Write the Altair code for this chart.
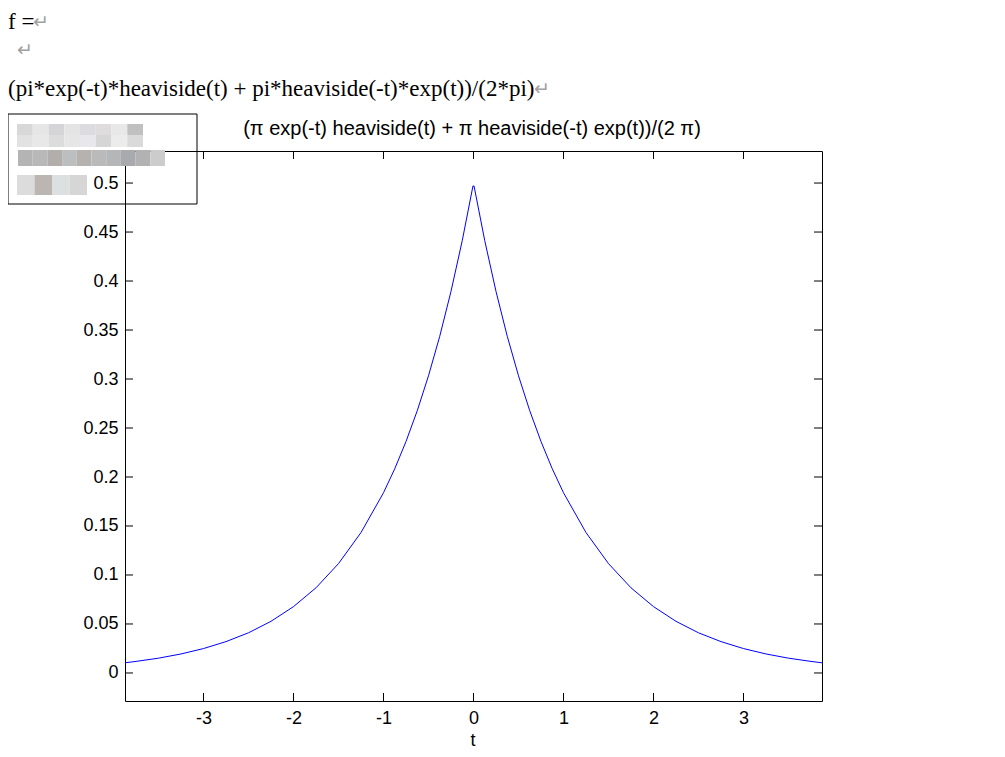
import altair as alt
import pandas as pd

# ---- data ----
t_vals = [-3.872, -3.75, -3.5, -3.25, -3.0, -2.75, -2.5, -2.25, -2.0, -1.75, -1.5, -1.25,
          -1.0, -0.875, -0.75, -0.625, -0.5, -0.375, -0.25, -0.125, -0.006,
          0.006, 0.125, 0.25, 0.375, 0.5, 0.625, 0.75, 0.875, 1.0,
          1.25, 1.5, 1.75, 2.0, 2.25, 2.5, 2.75, 3.0, 3.25, 3.5, 3.75, 3.872]
f_vals = [0.0104, 0.0118, 0.0151, 0.0194, 0.0249, 0.0320, 0.0410, 0.0527, 0.0677, 0.0869, 0.1116, 0.1433,
          0.1839, 0.2084, 0.2362, 0.2676, 0.3033, 0.3436, 0.3894, 0.4412, 0.497,
          0.497, 0.4412, 0.3894, 0.3436, 0.3033, 0.2676, 0.2362, 0.2084, 0.1839,
          0.1433, 0.1116, 0.0869, 0.0677, 0.0527, 0.0410, 0.0320, 0.0249, 0.0194, 0.0151, 0.0118, 0.0104]

x_ticks = [-3, -2, -1, 0, 1, 2, 3]
y_ticks = [0, 0.05, 0.1, 0.15, 0.2, 0.25, 0.3, 0.35, 0.4, 0.45, 0.5]

x_domain = [-3.872, 3.872]
y_domain = [-0.0286, 0.5327]

title_text = "(\u03c0 exp(-t) heaviside(t) + \u03c0 heaviside(-t) exp(t))/(2 \u03c0)"
line1 = "f ="
line3 = "(pi*exp(-t)*heaviside(t) + pi*heaviside(-t)*exp(t))/(2*pi)"
ret = "\u21b5"

# redaction mosaic (decorative) colours per row
row1a_cols = ["#d8d8d8", "#e6e6e6", "#d5d5d8", "#e4e4e4", "#dcdcdf", "#dedcdc", "#e8e8e8", "#c0c0c0"]
row1b_cols = ["#e2e2e2", "#e8e8e8", "#dcdcdc", "#e6e6e6", "#e8e8ec", "#d6d6d6", "#ececec", "#dadada"]
row2_cols = ["#b4b4b4", "#b8b8b8", "#b2aeab", "#bcbec0", "#b6b2b0", "#bababa", "#b4b6b8", "#a8aaae", "#b2b2b2", "#cccccc"]
row3_cols = ["#dcdcdc", "#bcb6b2", "#dce0e0", "#d6d6d6"]

W, H = 697, 550
OX, OY = 125, 151  # plot origin on page

xs = alt.Scale(domain=x_domain, nice=False, zero=False)
ys = alt.Scale(domain=y_domain, nice=False, zero=False)

df = pd.DataFrame({"t": t_vals, "f": f_vals})
xt = pd.DataFrame({"v": x_ticks})
yt = pd.DataFrame({"v": y_ticks})

line = alt.Chart(df).mark_line(color="#0000ff", strokeWidth=1, clip=True).encode(
    x=alt.X("t:Q", scale=xs, axis=alt.Axis(values=x_ticks, labelExpr="'' + datum.value", domain=False,
                                          ticks=False, grid=False, labelFontSize=18, labelFont="Liberation Sans",
                                          labelColor="black", labelPadding=8, title=None, labelFlush=False)),
    y=alt.Y("f:Q", scale=ys, axis=alt.Axis(values=y_ticks, labelExpr="'' + datum.value", domain=False,
                                          ticks=False, grid=False, labelFontSize=18, labelFont="Liberation Sans",
                                          labelColor="black", labelPadding=7, title=None, labelFlush=False)),
)

tick_len = 8
yt_left = alt.Chart(yt).mark_rule(color="black", strokeWidth=1).encode(
    y=alt.Y("v:Q", scale=ys, axis=None), x=alt.value(0), x2=alt.value(tick_len))
yt_right = alt.Chart(yt).mark_rule(color="black", strokeWidth=1).encode(
    y=alt.Y("v:Q", scale=ys, axis=None), x=alt.value(W - tick_len), x2=alt.value(W))
xt_bot = alt.Chart(xt).mark_rule(color="black", strokeWidth=1).encode(
    x=alt.X("v:Q", scale=xs, axis=None), y=alt.value(H), y2=alt.value(H - tick_len))
xt_top = alt.Chart(xt).mark_rule(color="black", strokeWidth=1).encode(
    x=alt.X("v:Q", scale=xs, axis=None), y=alt.value(0), y2=alt.value(tick_len))

def txt(s, px, py, size, font, color="black", align="left"):
    return alt.Chart(pd.DataFrame({"s": [s]})).mark_text(
        fontSize=size, font=font, color=color, align=align, baseline="alphabetic"
    ).encode(text="s:N", x=alt.value(px - OX), y=alt.value(py - OY))

title = txt(title_text, 472, 135, 20, "Liberation Sans", align="center")
xlabel = txt("t", 473, 746, 18, "Liberation Sans", align="center")
t1 = txt(line1, 8, 29, 23, "Liberation Serif")
r1 = txt(ret, 33, 28, 19, "DejaVu Sans", color="#a0a0a0")
r2 = txt(ret, 17, 56, 19, "DejaVu Sans", color="#a0a0a0")
t3 = txt(line3, 8, 96, 23, "Liberation Serif")
r3 = txt(ret, 534, 95, 19, "DejaVu Sans", color="#a0a0a0")

# mosaic blocks
rows = []
def add_row(cols, x0, x1, y0, y1):
    n = len(cols)
    w = (x1 - x0) / n
    for i, c in enumerate(cols):
        rows.append({"x": x0 + i * w - OX, "x2": x0 + (i + 1) * w - OX,
                     "y": y0 - OY, "y2": y1 - OY, "c": c})
add_row(row1a_cols, 17, 143, 124, 135)
add_row(row1b_cols, 17, 143, 135, 147)
add_row(row2_cols, 18, 165, 150, 166)
add_row(row3_cols, 17, 87, 175, 195)
mos = pd.DataFrame(rows)
mosaic = alt.Chart(mos).mark_rect(strokeWidth=0).encode(
    x=alt.X("x:Q", scale=None, axis=None), x2="x2:Q",
    y=alt.Y("y:Q", scale=None, axis=None), y2="y2:Q",
    color=alt.Color("c:N", scale=None, legend=None))

box = alt.Chart(pd.DataFrame({"a": [0]})).mark_rect(fill=None, stroke="black", strokeWidth=1).encode(
    x=alt.value(8 - OX), x2=alt.value(197 - OX), y=alt.value(114 - OY), y2=alt.value(204 - OY))

chart = alt.layer(line, yt_left, yt_right, xt_bot, xt_top, title, xlabel, t1, r1, r2, t3, r3,
                  mosaic, box).resolve_scale(x="independent", y="independent").properties(
    width=W, height=H,
    autosize=alt.AutoSizeParams(type="none"),
    padding={"left": 117, "top": 143, "right": 175, "bottom": 48},
    background="white",
).configure_view(stroke="black", strokeWidth=1)

chart.save("out.html", embed_options={"renderer": "svg", "actions": False})
